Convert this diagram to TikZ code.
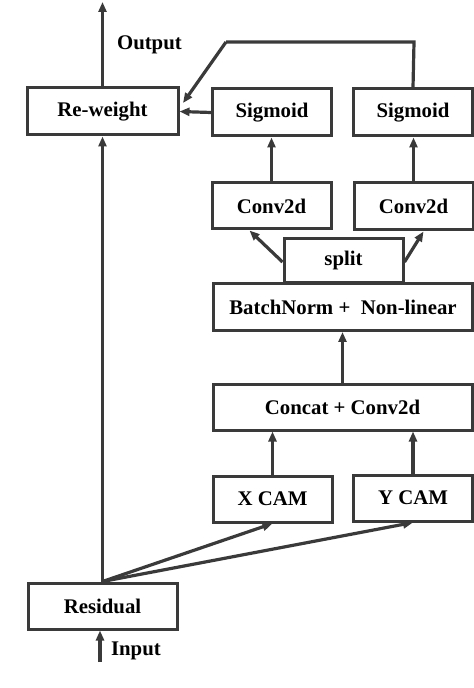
\documentclass[tikz,border=0pt]{standalone}
\usepackage{fontspec}
\setmainfont{Liberation Serif}
\usepackage{xcolor}
\usepackage{tikz}
\usetikzlibrary{arrows.meta, positioning, calc}
\definecolor{linegray}{RGB}{58, 58, 58}

\begin{document}
\begin{tikzpicture}[
    x=0.5pt, y=-0.5pt,
    every node/.style={font=\fontsize{10.4}{12}\selectfont\bfseries},
    block/.style={rectangle, draw=linegray, line width=1.5pt, fill=white, minimum width=59.5pt, minimum height=23.5pt, align=center, inner sep=0pt},
    wide/.style={block, minimum width=129.5pt},
    arrow/.style={-{Triangle[length=5pt, width=4pt]}, line width=1.6pt, draw=linegray},
    plain/.style={line width=1.6pt, draw=linegray}
]
\useasboundingbox (0,0) rectangle (474,688);
% left column
\node[block, minimum width=75.5pt] (reweight) at (102.5,111.5) {Re-weight};
\node[block, minimum width=74.5pt, minimum height=23pt] (residual) at (102.5,606) {Residual};
% right part
\node[block] (sig1) at (272,112.5) {Sigmoid};
\node[block] (sig2) at (413,112.5) {Sigmoid};
\node[block, minimum height=23pt] (conv1) at (271.5,206) {Conv2d};
\node[block] (conv2) at (413.5,206.5) {Conv2d};
\node[block, minimum height=22pt] (split) at (343.5,261) {split};
\node[wide] (bn) at (343,307) {BatchNorm +\ \ Non-linear};
\node[wide, minimum height=23pt] (concat) at (342.5,407) {Concat + Conv2d};
\node[block, minimum height=23pt] (xcam) at (272.5,499) {X CAM};
\node[block, minimum height=23pt] (ycam) at (413,498) {Y CAM};
\coordinate (out) at (102.5,2);
\coordinate (in) at (100,662);
\coordinate (fbR) at (414,42);
\coordinate (fbL) at (226,42);
\coordinate (rwin) at (183,103);
\node[anchor=west] at (110,45) {Output};
\node[anchor=west] at (104,651) {Input};
% connectors
\draw[arrow] (reweight.north) -- (out);
\draw[arrow] (in) -- (in |- residual.south);
\draw[arrow] (residual.north) -- (reweight.south);
\draw[arrow] (residual.north) -- (xcam.south);
\draw[arrow] (residual.north) -- (ycam.south);
\draw[arrow] (xcam.north) -- (xcam.north |- concat.south);
\draw[arrow] (ycam.north) -- (ycam.north |- concat.south);
\draw[arrow] (concat.north) -- (concat.north |- bn.south);
\draw[arrow] ([yshift=-0.5pt]split.west) -- ([xshift=-11pt]conv1.south);
\draw[arrow] ([yshift=-0.5pt]split.east) -- ([xshift=5pt]conv2.south);
\draw[arrow] (conv1.north) -- (conv1.north |- sig1.south);
\draw[arrow] (conv2.north) -- (conv2.north |- sig2.south);
\draw[arrow] (sig1.west) -- (reweight.east);
\draw[plain] (sig2.north) -- (fbR) -- (fbL);
\draw[arrow] (fbL) -- (rwin);
\end{tikzpicture}
\end{document}
